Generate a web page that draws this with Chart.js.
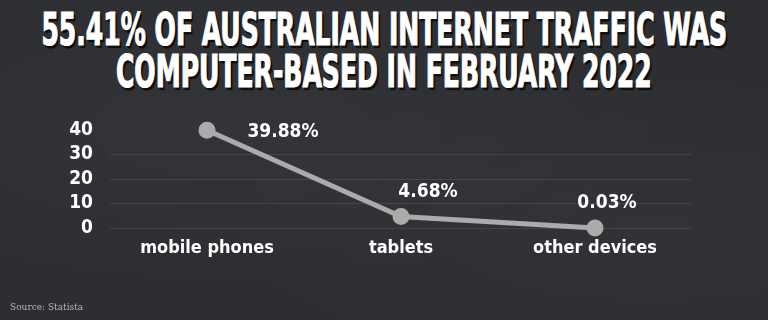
<!DOCTYPE html>
<html>
<head>
<meta charset="utf-8">
<script src="https://cdn.jsdelivr.net/npm/chart.js@4"></script>
<style>
  html, body { margin: 0; padding: 0; }
  body {
    width: 768px; height: 320px; overflow: hidden; position: relative;
    background:
      radial-gradient(ellipse at 30% 40%, rgba(255,255,255,0.03), rgba(0,0,0,0) 60%),
      radial-gradient(ellipse at 85% 70%, rgba(255,255,255,0.025), rgba(0,0,0,0) 50%),
      #2c2e32;
  }
  .title {
    position: absolute; left: 0; width: 768px;
    display: flex; justify-content: center;
    font-family: "DejaVu Sans", sans-serif; font-stretch: condensed;
    font-weight: bold; font-size: 44px; color: #ffffff; white-space: nowrap;
    line-height: 1;
    -webkit-text-stroke: 1.2px #ffffff;
    text-shadow: 1px 1px 0 #111, 2px 2px 0 #111, 3px 3px 1px #0a0a0a;
  }
  .title span { display: inline-block; flex: none; transform-origin: center; }
  #source {
    position: absolute; left: 10px; top: 302px;
    font-family: "DejaVu Serif", "Liberation Serif", serif; font-size: 9px; color: #b8b8b8;
  }
  #wrap { position: absolute; left: 0; top: 0; width: 768px; height: 320px; }
</style>
</head>
<body>
<div class="title" style="top:8px"><span id="t1">55.41% OF AUSTRALIAN INTERNET TRAFFIC WAS</span></div>
<div class="title" style="top:50px"><span id="t2">COMPUTER-BASED IN FEBRUARY 2022</span></div>
<div id="wrap"><canvas id="myChart" width="768" height="320"></canvas></div>
<div id="source">Source: Statista</div>
<script>
// data
const categories = ['mobile phones', 'tablets', 'other devices'];
const shares = [39.88, 4.68, 0.03];
const valueLabels = ['39.88%', '4.68%', '0.03%'];
const yTicks = [0, 10, 20, 30, 40];

// label placement next to each point (px)
const labelDx = [76, 27, 12];
const labelDy = [2, -24, -25];

// stretch title lines to the widths in the picture
function fitLine(id, w) {
  const el = document.getElementById(id);
  el.style.transform = 'none';
  const cur = el.offsetWidth;
  el.style.transform = 'scaleX(' + (w / cur) + ')';
}
function fitTitles() {
  fitLine('t1', 686);
  fitLine('t2', 536);
}
fitTitles();
if (document.fonts && document.fonts.ready) document.fonts.ready.then(fitTitles);

const FONT = '"DejaVu Sans", sans-serif';
const WEIGHT = 'bold condensed';

const valueLabelPlugin = {
  id: 'valueLabels',
  afterDatasetsDraw(chart) {
    const ctx = chart.ctx;
    const meta = chart.getDatasetMeta(0);
    ctx.save();
    ctx.font = WEIGHT + ' 19px ' + FONT;
    ctx.fillStyle = '#ffffff';
    ctx.textAlign = 'center';
    ctx.textBaseline = 'middle';
    meta.data.forEach((pt, i) => {
      ctx.fillText(valueLabels[i], pt.x + labelDx[i], pt.y + labelDy[i]);
    });
    ctx.restore();
  }
};

const ctx = document.getElementById('myChart').getContext('2d');
const myChart = new Chart(ctx, {
  type: 'line',
  data: {
    labels: categories,
    datasets: [{
      data: shares,
      borderColor: '#ababab',
      backgroundColor: '#ababab',
      borderWidth: 5,
      pointRadius: 6,
      pointHoverRadius: 6,
      tension: 0,
      clip: false
    }]
  },
  options: {
    responsive: false,
    animation: false,
    devicePixelRatio: 1,
    layout: { padding: { top: 130, bottom: 58, left: 40, right: 76 } },
    scales: {
      x: {
        offset: true,
        afterFit: axis => { axis.height = 34; },
        grid: { display: false, drawTicks: false },
        border: { display: false },
        ticks: {
          padding: 10,
          color: '#ffffff',
          font: { family: FONT, size: 18, weight: WEIGHT }
        }
      },
      y: {
        min: 0,
        max: 40,
        afterBuildTicks: axis => { axis.ticks = yTicks.map(v => ({ value: v })); },
        afterFit: axis => { axis.width = 70; },
        grid: {
          drawTicks: false,
          color: c => (c.tick && c.tick.value === 40) ? 'rgba(0,0,0,0)' : 'rgba(255,255,255,0.09)',
          lineWidth: 1
        },
        border: { display: false },
        ticks: {
          autoSkip: false,
          padding: 17,
          color: '#ffffff',
          font: { family: FONT, size: 19, weight: WEIGHT, lineHeight: 1 }
        }
      }
    },
    plugins: {
      legend: { display: false },
      tooltip: { enabled: false }
    }
  },
  plugins: [valueLabelPlugin]
});
</script>
</body>
</html>
